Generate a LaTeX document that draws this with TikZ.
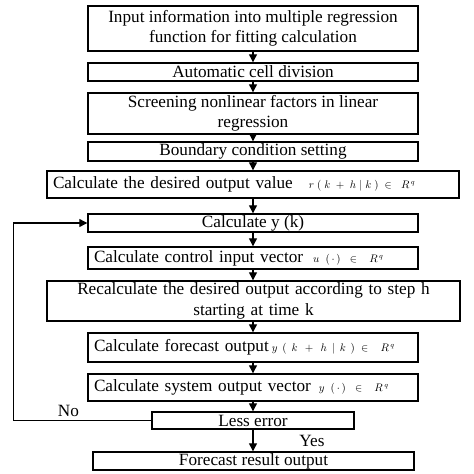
\documentclass[tikz,border=0pt]{standalone}
\usepackage{fontspec}
\setmainfont{Liberation Serif}
\usetikzlibrary{arrows.meta}
\newcommand{\mth}[1]{{\fontsize{10.5}{11}\selectfont$#1$}}
\tikzset{
  box/.style={draw, line width=1.4pt, rectangle, inner sep=0pt, align=center,
    font=\fontsize{17.2}{20.5}\selectfont},
  lbox/.style={box, align=left, inner xsep=6pt},
  arr/.style={line width=1.2pt, -{Triangle[length=8pt,width=8pt]}},
  lab/.style={font=\fontsize{17.2}{20}\selectfont, inner sep=0pt}
}
\begin{document}
\begin{tikzpicture}[x=1pt,y=-1pt]
\useasboundingbox (0,0) rectangle (474,474);
\node[box, minimum width=330pt, minimum height=45pt] (n1) at (253,28.5)
  {Input information into multiple regression\\function for fitting calculation};
\node[box, minimum width=330pt, minimum height=18pt] (n2) at (253,72) {Automatic cell division};
\node[box, minimum width=330pt, minimum height=41pt] (n3) at (253,113.5)
  {Screening nonlinear factors in linear\\regression};
\node[box, minimum width=330pt, minimum height=19pt] (n4) at (253,151.5) {Boundary condition setting};
\node[lbox, minimum width=412pt, text width=400pt, minimum height=27pt] (n5) at (253,184.5)
  {Calculate the desired output value\hspace{16pt}\mth{r\;(\;k\;+\;h\;|\;k\;)\;\in\;\;R^{\,q}}};
\node[box, minimum width=330pt, minimum height=18pt] (n6) at (253,223) {Calculate y (k)};
\node[lbox, minimum width=330pt, text width=318pt, minimum height=22pt] (n7) at (253,258)
  {Calculate control input vector\hspace{10pt}\mth{u\;\;(\,\cdot\,)\;\;\in\;\;\;R^{\,q}}};
\node[lbox, minimum width=413pt, text width=401pt, align=center, minimum height=40pt] (n8) at (253.5,301)
  {Recalculate the desired output according to step h\\starting at time k};
\node[lbox, minimum width=330pt, text width=318pt, minimum height=29pt] (n9) at (253,347.5)
  {Calculate forecast output\hspace{3pt}\mth{y\;\,(\;\,k\;\,+\;\,h\;\,|\;\,k\;\,)\;\in\;\;\;R^{\,q}}};
\node[lbox, minimum width=330pt, text width=318pt, minimum height=27pt] (n10) at (253,387.5)
  {Calculate system output vector\hspace{8pt}\mth{y\;\;(\,\cdot\,)\;\;\in\;\;\;R^{\,q}}};
\node[box, minimum width=202pt, minimum height=17pt] (n11) at (253,420.5) {Less error};
\node[box, minimum width=321pt, minimum height=18pt] (n12) at (253.5,461) {Forecast result output};
\node[lab] (no) at (68.5,411) {No};
\node[lab] (yes) at (312,441) {Yes};
\foreach \a/\b in {n1/n2,n2/n3,n3/n4,n4/n5,n5/n6,n6/n7,n7/n8,n8/n9,n9/n10,n10/n11}
  \draw[arr] (\a.south -| 253,0) -- (\b.north -| 253,0);
\draw[arr] (n11.south) -- (n11.south |- n12.north);
\draw[arr] (n11.west) -- ++(-138,0) |- (n6.west);
\end{tikzpicture}
\end{document}
